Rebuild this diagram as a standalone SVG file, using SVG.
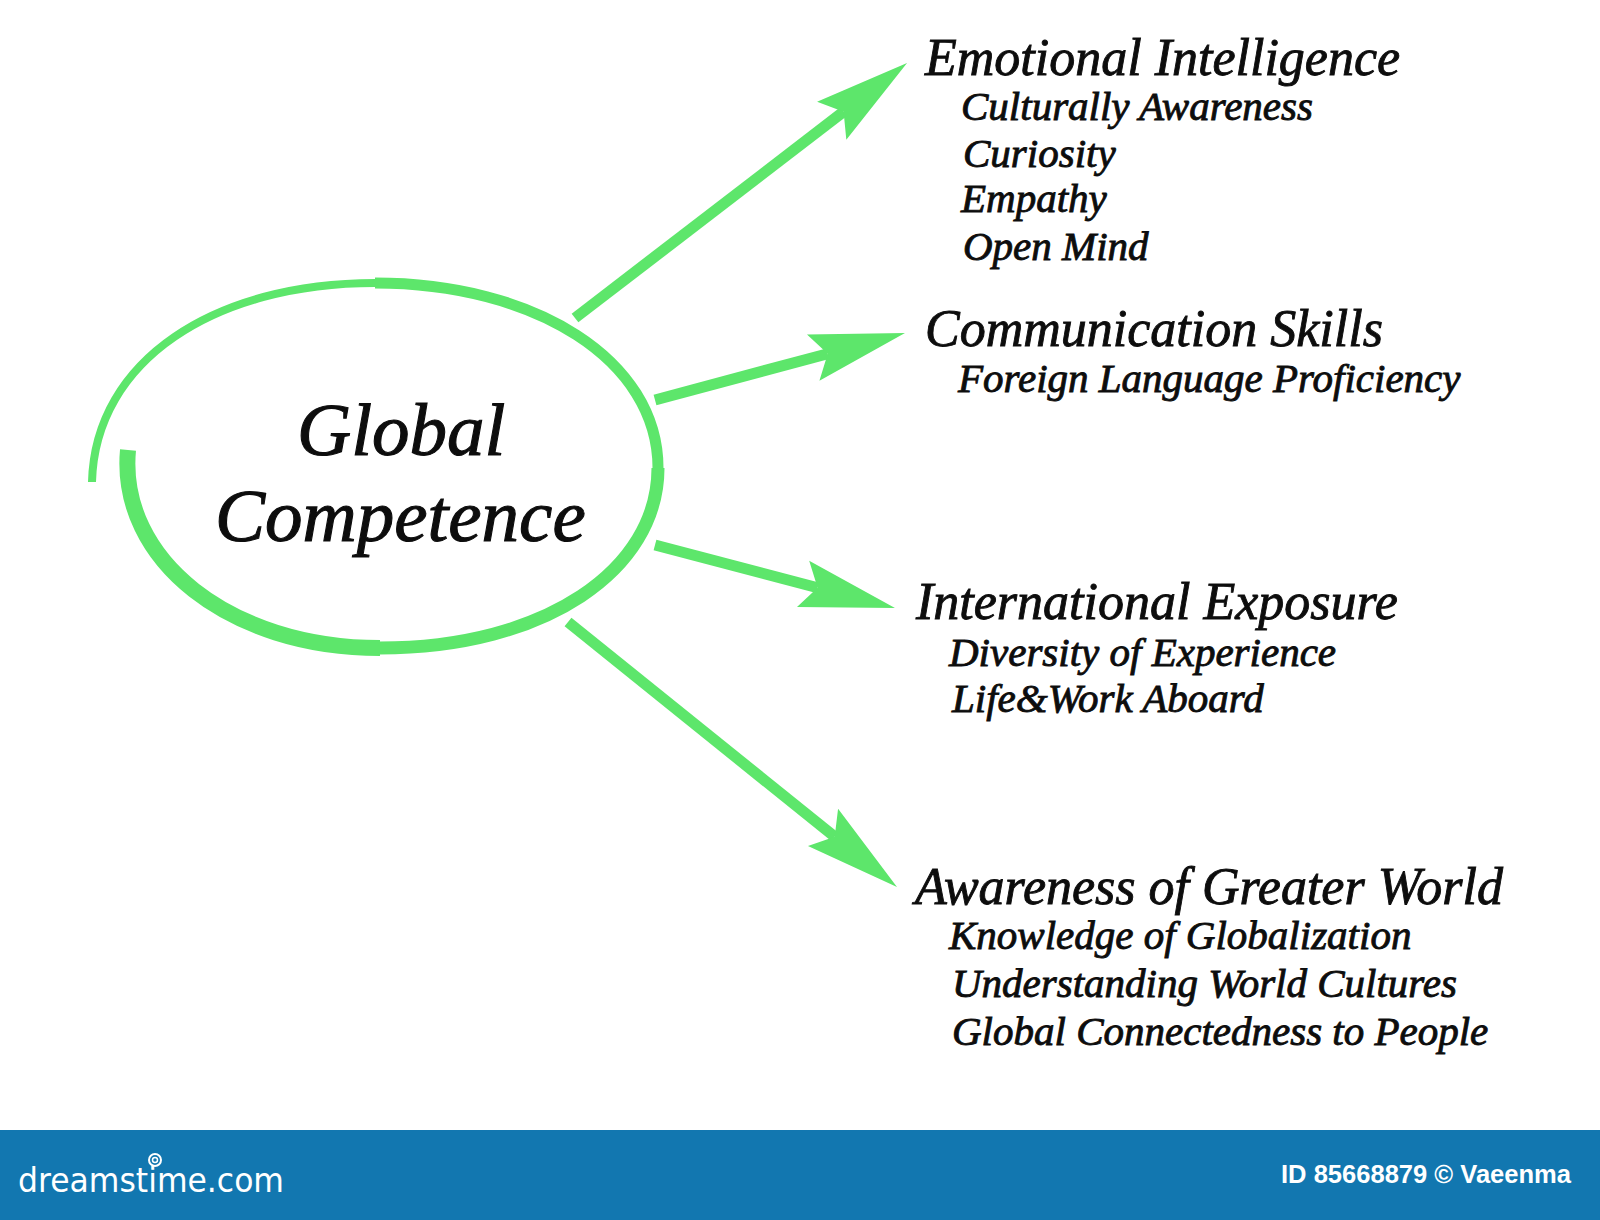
<svg xmlns="http://www.w3.org/2000/svg" width="1600" height="1220" viewBox="0 0 1600 1220">
<style>
  .t { font-family: "Liberation Serif", "Times New Roman", serif; font-style: italic; fill: #0d0d0d; stroke: #0d0d0d; stroke-width: 0.9; }
  .h { font-size: 52px; }
  .s { font-size: 41px; }
  .c { font-size: 75px; stroke-width: 1.1; }
  .conn { stroke: #5de66b; stroke-width: 11; fill: none; stroke-linecap: butt; }
  .ring { stroke: #5de66b; fill: none; stroke-linecap: butt; }
  .ft { fill: #ffffff; }
</style>
<defs>
  <marker id="head" markerUnits="userSpaceOnUse" orient="auto" refX="0" refY="0" markerWidth="200" markerHeight="200" overflow="visible">
    <path d="M 80 0 L -15 -24 L 0 0 L -15 24 Z" fill="#5de66b"/>
  </marker>
</defs>
<rect x="0" y="0" width="1600" height="1220" fill="#ffffff"/>

<g id="connectors">
  <line class="conn" x1="575" y1="318" x2="843.6" y2="111.7" marker-end="url(#head)"/>
  <line class="conn" x1="655" y1="400" x2="827.7" y2="353.7" marker-end="url(#head)"/>
  <line class="conn" x1="655" y1="545" x2="817.6" y2="587.7" marker-end="url(#head)"/>
  <line class="conn" x1="568" y1="622" x2="834.7" y2="836.8" marker-end="url(#head)"/>
</g>

<g id="node-global-competence">
  <path class="ring" stroke-width="16" d="M 128 450 C 118 560, 230 648, 380 648"/>
  <path class="ring" stroke-width="13" d="M 380 648 C 545 648, 658 570, 658 468"/>
  <path class="ring" stroke-width="11" d="M 658 468 C 658 360, 535 283, 375 283"/>
  <path class="ring" stroke-width="8" d="M 375 283 C 215 283, 95 360, 92 482"/>
  <text class="t c" x="297" y="455">Global</text>
  <text class="t c" x="215" y="541">Competence</text>
</g>

<g id="node-emotional-intelligence">
  <text class="t h" x="925" y="75">Emotional Intelligence</text>
  <text class="t s" x="961" y="120">Culturally Awareness</text>
  <text class="t s" x="963" y="167">Curiosity</text>
  <text class="t s" x="961" y="212">Empathy</text>
  <text class="t s" x="963" y="260">Open Mind</text>
</g>

<g id="node-communication-skills">
  <text class="t h" x="925" y="346">Communication Skills</text>
  <text class="t s" x="958" y="392">Foreign Language Proficiency</text>
</g>

<g id="node-international-exposure">
  <text class="t h" x="916" y="619">International Exposure</text>
  <text class="t s" x="949" y="666">Diversity of Experience</text>
  <text class="t s" x="952" y="712">Life&amp;Work Aboard</text>
</g>

<g id="node-awareness-greater-world">
  <text class="t h" x="915" y="904">Awareness of Greater World</text>
  <text class="t s" x="949" y="949">Knowledge of Globalization</text>
  <text class="t s" x="952" y="997">Understanding World Cultures</text>
  <text class="t s" x="952" y="1045">Global Connectedness to People</text>
</g>

<g id="footer">
  <rect x="0" y="1130" width="1600" height="90" fill="#1277b0"/>
  <text class="ft" x="18" y="1192" font-family="DejaVu Sans, sans-serif" font-size="34" textLength="266" lengthAdjust="spacingAndGlyphs">dreamstime.com</text>
  <circle cx="155" cy="1160" r="6" fill="none" stroke="#ffffff" stroke-width="2"/>
  <circle cx="155" cy="1160" r="2.5" fill="none" stroke="#ffffff" stroke-width="1.5"/>
  <text class="ft" x="1281" y="1183" font-family="Liberation Sans Narrow, Liberation Sans, sans-serif" font-size="25" font-weight="bold" textLength="290" lengthAdjust="spacingAndGlyphs">ID 85668879 © Vaeenma</text>
</g>
</svg>
